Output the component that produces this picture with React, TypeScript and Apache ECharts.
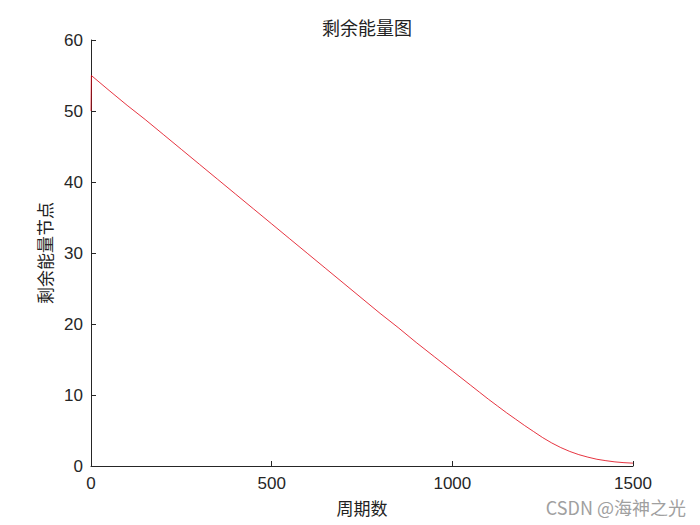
import React, { useEffect, useRef } from "react";
import * as echarts from "echarts";

const titleText = "剩余能量图";
const xName = "周期数";
const yName = "剩余能量节点";
const watermark = "CSDN @海神之光";

const xTicks = [0, 500, 1000, 1500];
const yTicks = [0, 10, 20, 30, 40, 50, 60];

const cycles = [
  0, 1, 50, 100, 150, 200, 250, 300, 350, 400, 450, 500, 550, 600, 650, 700,
  750, 800, 850, 900, 950, 1000, 1050, 1075, 1100, 1125, 1150, 1175, 1200,
  1225, 1250, 1275, 1300, 1325, 1350, 1375, 1400, 1425, 1450, 1475, 1500,
];
const energy = [
  50, 55, 52.9, 50.8, 48.8, 46.7, 44.6, 42.5, 40.4, 38.3, 36.2, 34.1, 32.0,
  29.9, 27.8, 25.7, 23.6, 21.5, 19.5, 17.4, 15.4, 13.4, 11.4, 10.4, 9.4, 8.45,
  7.5, 6.6, 5.7, 4.85, 4.0, 3.25, 2.6, 2.05, 1.6, 1.25, 0.95, 0.75, 0.58, 0.47,
  0.4,
];

export default function App() {
  const ref = useRef<HTMLDivElement>(null);
  useEffect(() => {
    if (!ref.current) return;
    const chart = echarts.init(ref.current, undefined, { renderer: "svg" });
    const axisColor = "#262626";
    const labelFont = "'Liberation Sans', Arial, sans-serif";
    const cjk = "'Noto Sans CJK SC', sans-serif";
    chart.setOption({
      animation: false,
      backgroundColor: "#ffffff",
      title: {
        text: titleText,
        left: 317,
        top: 13,
        textStyle: {
          fontFamily: cjk,
          fontSize: 18,
          fontWeight: "normal",
          color: "#222",
        },
      },
      grid: { left: 91, right: 67, top: 40, bottom: 59, containLabel: false },
      xAxis: {
        type: "value",
        min: xTicks[0],
        max: xTicks[xTicks.length - 1],
        interval: 500,
        name: xName,
        nameLocation: "middle",
        nameGap: 33,
        nameTextStyle: { fontFamily: cjk, fontSize: 17, color: "#222" },
        axisLine: { show: true, lineStyle: { color: axisColor, width: 1 } },
        axisTick: { show: true, inside: true, length: 5, lineStyle: { color: axisColor } },
        axisLabel: {
          fontFamily: labelFont,
          fontSize: 17,
          color: axisColor,
          margin: 9,
          formatter: (v: number) => String(v),
        },
        splitLine: { show: false },
      },
      yAxis: {
        type: "value",
        min: yTicks[0],
        max: yTicks[yTicks.length - 1],
        interval: 10,
        name: yName,
        nameLocation: "middle",
        nameRotate: 90,
        nameGap: 36,
        nameTextStyle: { fontFamily: cjk, fontSize: 17, color: "#222" },
        axisLine: { show: true, lineStyle: { color: axisColor, width: 1 } },
        axisTick: { show: true, inside: true, length: 5, lineStyle: { color: axisColor } },
        axisLabel: {
          fontFamily: labelFont,
          fontSize: 17,
          color: axisColor,
          margin: 8,
          formatter: (v: number) => String(v),
        },
        splitLine: { show: false },
      },
      graphic: [
        {
          type: "text",
          right: 14,
          top: 498,
          style: {
            text: watermark,
            fontFamily: cjk,
            fontSize: 18,
            fill: "#a0a0a0",
          },
        },
      ],
      series: [
        {
          type: "line",
          data: cycles.map((c, i) => [c, energy[i]]),
          showSymbol: false,
          smooth: false,
          lineStyle: { color: "#e00010", width: 0.8 },
        },
      ],
    });
    return () => chart.dispose();
  }, []);
  return <div ref={ref} style={{ width: 700, height: 525, position: "absolute", left: 0, top: 0 }} />;
}
